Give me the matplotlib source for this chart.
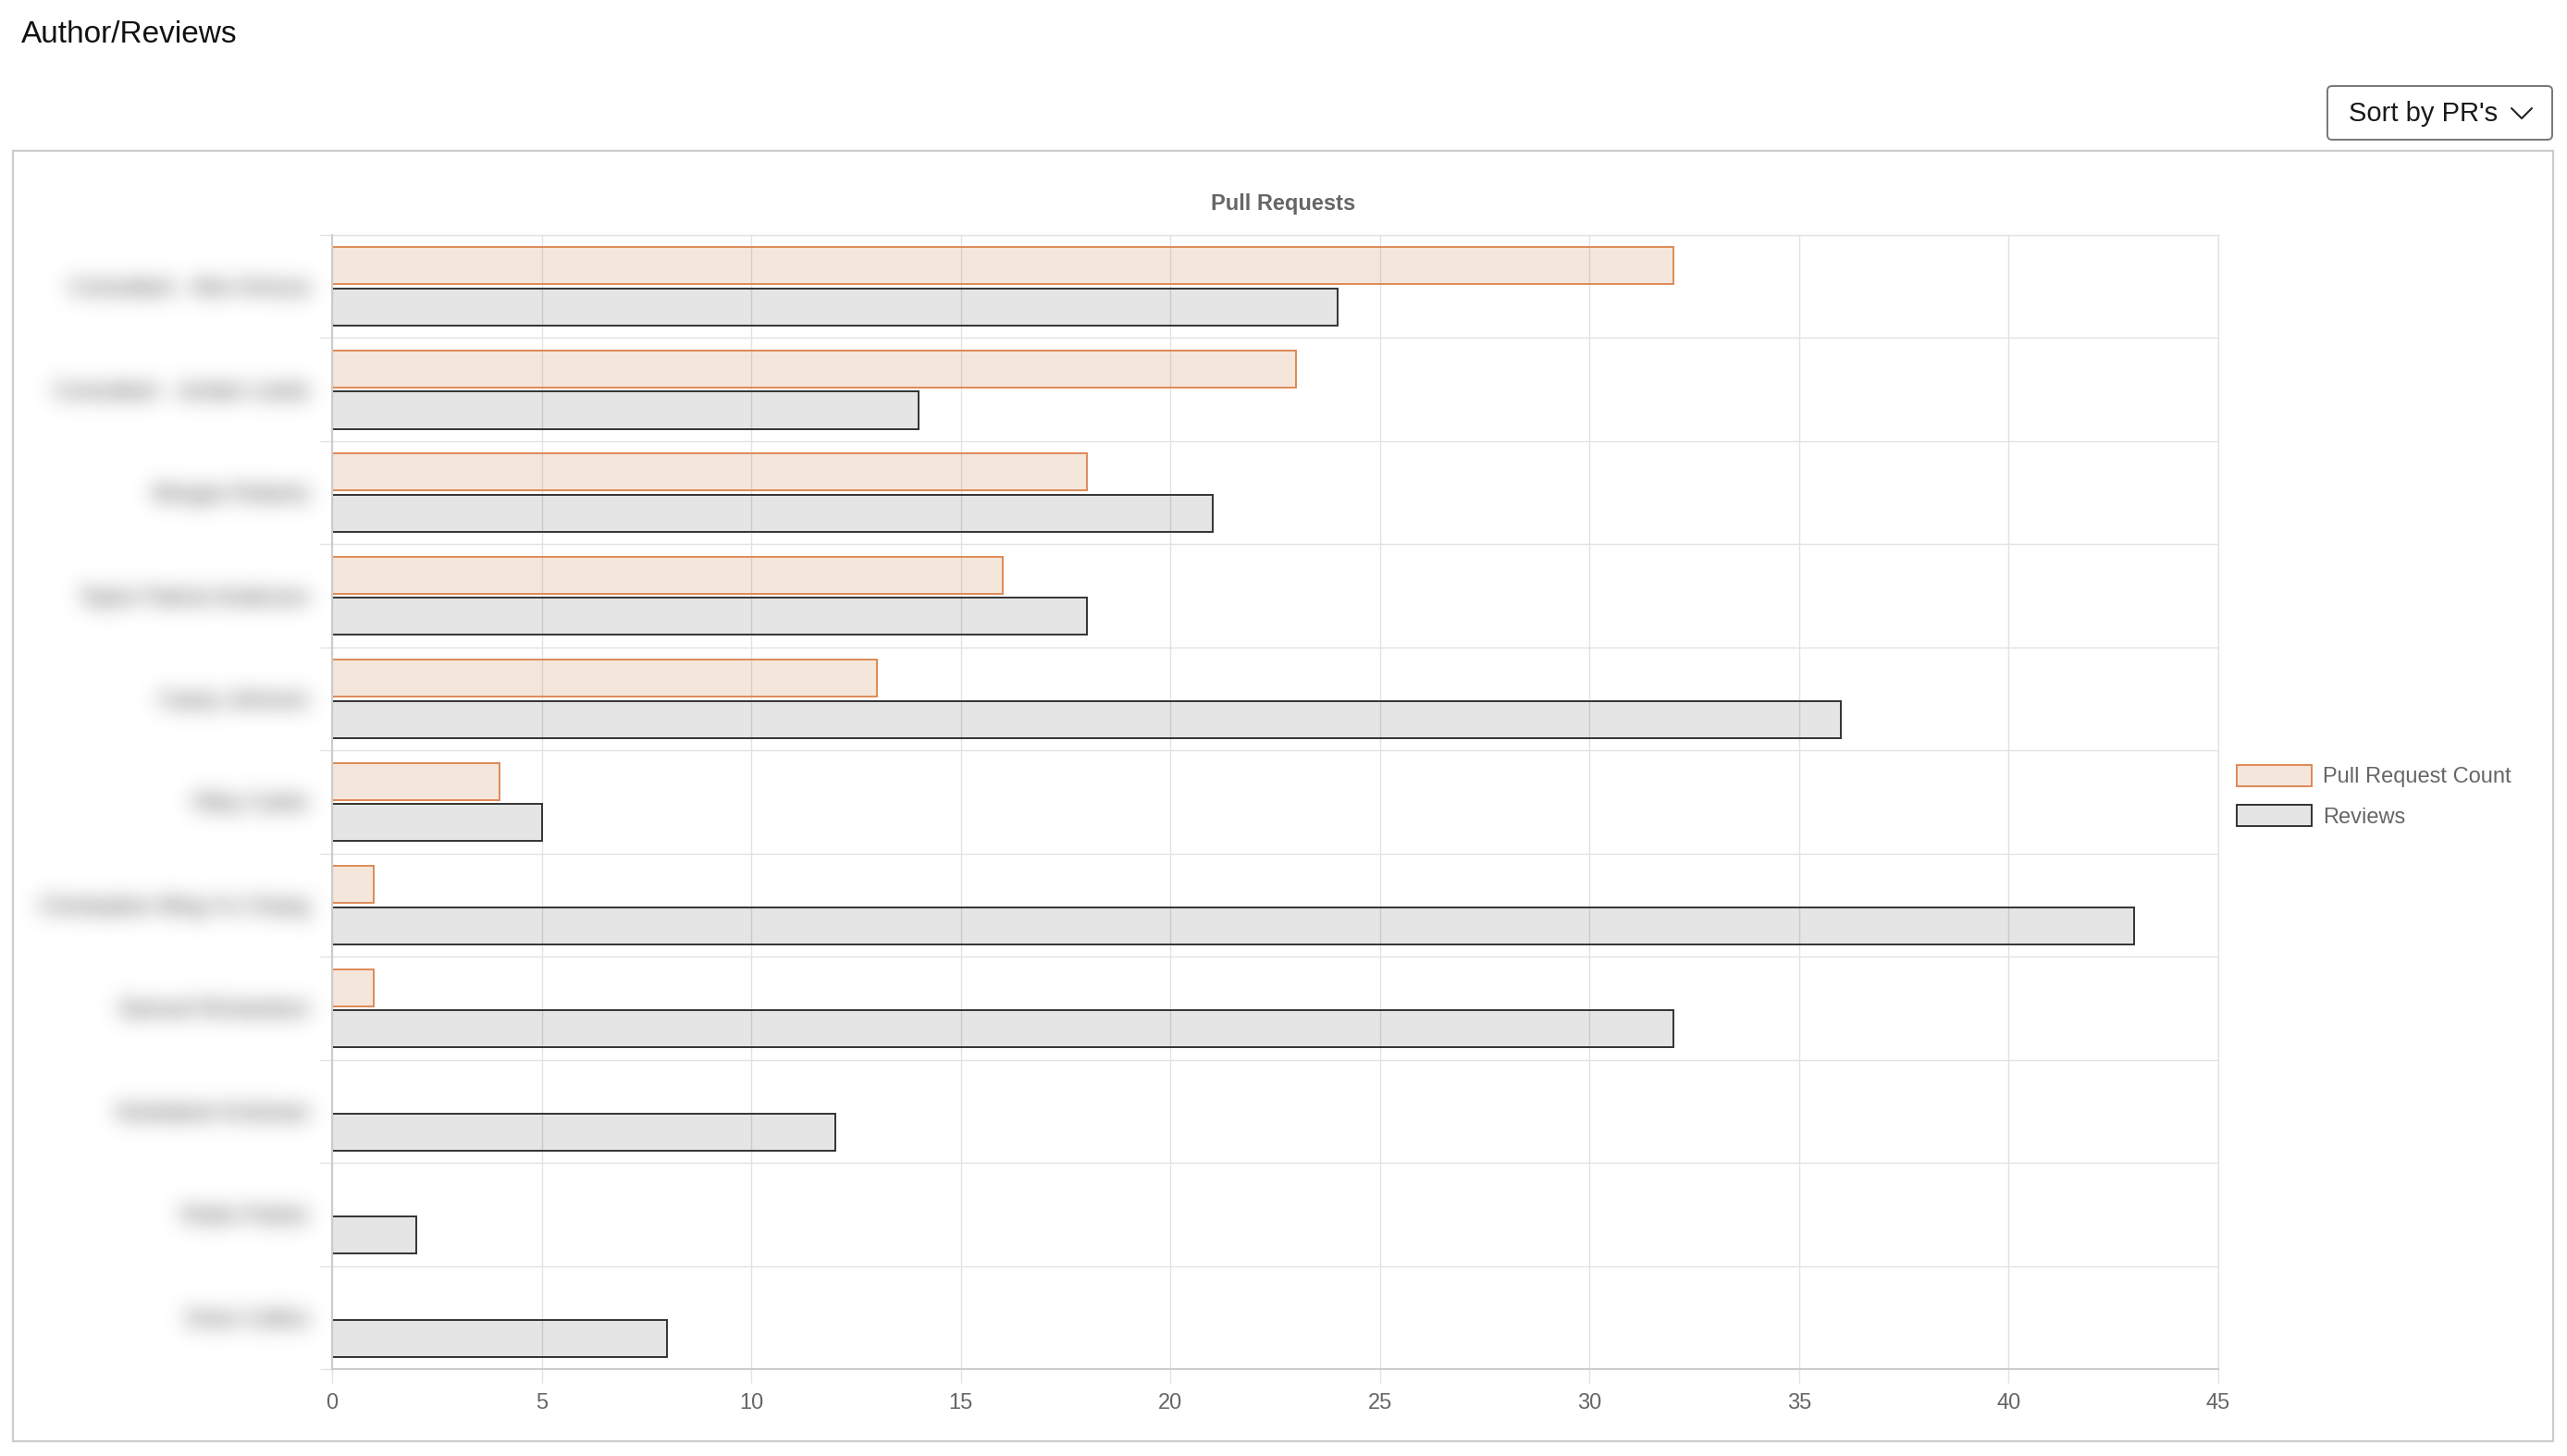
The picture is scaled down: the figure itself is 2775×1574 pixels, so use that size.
import numpy as np
import matplotlib
matplotlib.use("Agg")
import matplotlib.pyplot as plt
from matplotlib.patches import Rectangle, FancyBboxPatch, Patch

plt.rcParams['font.family'] = ['Liberation Sans', 'DejaVu Sans']

# ---------------- data ----------------
authors = [
    "Consultant - Alex Kimura",
    "Consultant - Jordan Leeds",
    "Morgan Roberts",
    "Taylor Patrick Anderson",
    "Casey Johnson",
    "Riley Carter",
    "Christopher Ming-Yu Chang",
    "Samuel Richardson",
    "Venkatesh Krishnan",
    "Robin Parker",
    "Drew Collins",
]
pull_requests = [32, 23, 18, 16, 13, 4, 1, 1, 0, 0, 0]
reviews = [24, 14, 21, 18, 36, 5, 43, 32, 12, 2, 8]
x_ticks = [0, 5, 10, 15, 20, 25, 30, 35, 40, 45]
series_names = ["Pull Request Count", "Reviews"]

W, H, DPI = 2775, 1574, 100


class BlurFilter:
    """Gaussian blur of the alpha channel (used to mimic redacted labels)."""
    def __init__(self, sigma, color=(0.4, 0.4, 0.4), gain=1.0):
        self.sigma = sigma
        self.color = color
        self.gain = gain

    def __call__(self, im, dpi):
        s = self.sigma
        r = int(3 * s)
        a = np.pad(im[:, :, 3], ((r, r), (r, r)), mode='constant')
        xs = np.arange(-r, r + 1)
        k = np.exp(-xs ** 2 / (2.0 * s * s))
        k /= k.sum()
        out = np.zeros_like(a)
        for i, w in zip(xs, k):
            out += w * np.roll(a, i, axis=0)
        out2 = np.zeros_like(out)
        for i, w in zip(xs, k):
            out2 += w * np.roll(out, i, axis=1)
        tgt = np.empty((a.shape[0], a.shape[1], 4), dtype=im.dtype)
        tgt[:, :, 0] = self.color[0]
        tgt[:, :, 1] = self.color[1]
        tgt[:, :, 2] = self.color[2]
        tgt[:, :, 3] = np.clip(out2 * self.gain, 0, 1)
        return tgt, -r, -r


fig = plt.figure(figsize=(W / DPI, H / DPI), dpi=DPI)
fig.patch.set_facecolor('white')

# overlay axes in pixel coordinates (page decorations)
ov = fig.add_axes([0, 0, 1, 1], zorder=-1)
ov.set_xlim(0, W)
ov.set_ylim(H, 0)
ov.axis('off')
ov.text(23, 37, "Author/Reviews", fontsize=24, color='#111111', va='center', ha='left')
ov.add_patch(Rectangle((14, 163), 2746, 1395, fill=False, edgecolor='#cccccc', lw=1.6))
ov.add_patch(FancyBboxPatch((2516, 93), 243, 58, boxstyle="round,pad=0,rounding_size=5",
                            fill=False, edgecolor='#777777', lw=1.4))
ov.text(2539, 123, "Sort by PR's", fontsize=21, color='#1a1a1a', va='center', ha='left')
ov.plot([2715, 2726, 2737], [117, 128, 117], color='#222222', lw=1.5, solid_capstyle='round')
ov.text(1387, 220, "Pull Requests", fontsize=17, fontweight='bold', color='#666666',
        va='center', ha='center')

# main chart axes
left, right, top, bottom = 359, 2398, 254, 1480
ax = fig.add_axes([left / W, 1 - bottom / H, (right - left) / W, (bottom - top) / H])
ax.set_facecolor('none')

y = np.arange(len(authors))
h = 0.36
pr_edges = ['#de8a55' if v > 0 else 'none' for v in pull_requests]
ax.barh(y - 0.2, pull_requests, height=h, color=(205 / 255, 130 / 255, 80 / 255, 0.2),
        edgecolor=pr_edges, linewidth=1.4, zorder=2)
ax.barh(y + 0.2, reviews, height=h, color=(0, 0, 0, 0.1),
        edgecolor='#333333', linewidth=1.4, zorder=2)

ax.set_xlim(0, 45)
ax.set_ylim(len(authors) - 0.5, -0.5)
ax.set_xticks(x_ticks)
ax.set_xticklabels([str(t) for t in x_ticks])
ax.set_yticks(y)
ax.set_yticklabels(authors)
ax.set_yticks(np.arange(len(authors) + 1) - 0.5, minor=True)

ax.tick_params(axis='x', length=11, width=1, color='#e2e2e2', pad=8,
               labelsize=17, labelcolor='#666666')
ax.tick_params(axis='y', which='major', length=0, pad=18, labelsize=17, labelcolor='#666666')
ax.tick_params(axis='y', which='minor', length=9.5, width=1, color='#e2e2e2')

ax.grid(axis='x', which='major', color='#e2e2e2', lw=1)
ax.grid(axis='y', which='minor', color='#e2e2e2', lw=1)
ax.set_axisbelow(True)

for side in ['left', 'bottom']:
    ax.spines[side].set_color('#cccccc')
    ax.spines[side].set_linewidth(1.5)
for side in ['top', 'right']:
    ax.spines[side].set_color('#e2e2e2')
    ax.spines[side].set_linewidth(1)

for lab in ax.get_yticklabels():
    lab.set_agg_filter(BlurFilter(11, color=(0.35, 0.35, 0.35), gain=1.3))

handles = [
    Patch(facecolor=(205 / 255, 130 / 255, 80 / 255, 0.2), edgecolor='#de8a55', lw=1.4),
    Patch(facecolor=(0, 0, 0, 0.1), edgecolor='#333333', lw=1.4),
]
fig.legend(handles, series_names, loc='upper left',
           bbox_to_anchor=(2418 / W, 1 - 827 / H), bbox_transform=fig.transFigure,
           frameon=False, fontsize=17, labelcolor='#666666', borderpad=0, borderaxespad=0,
           handlelength=3.45, handleheight=1.1, handletextpad=0.5, labelspacing=0.8)

fig.savefig("out.png", dpi=DPI, facecolor='white')
